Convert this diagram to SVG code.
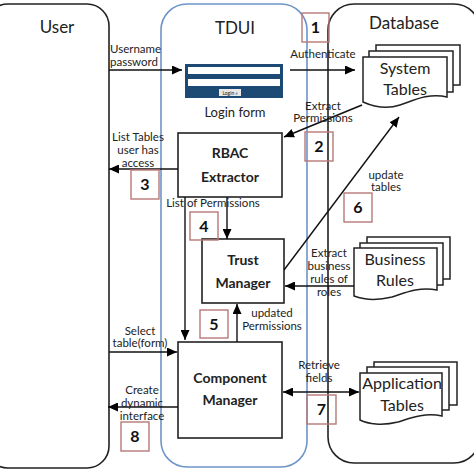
<svg xmlns="http://www.w3.org/2000/svg" width="474" height="474" viewBox="0 0 474 474">
<defs>
<marker id="ah" markerUnits="userSpaceOnUse" markerWidth="11" markerHeight="9" refX="10" refY="4.5" orient="auto-start-reverse"><path d="M0,0 L10,4.5 L0,9 Z" fill="#000"/></marker>
</defs>
<style>
text{font-family:Lato,"Liberation Sans",sans-serif;fill:#222}
.t{font-size:17px}
.lb{font-size:11.5px;text-anchor:middle}
.bx{fill:#fff;stroke:#222;stroke-width:1.6}
.bt{font-size:14px;font-weight:bold;text-anchor:middle}
.dt{font-size:16px;text-anchor:middle}
.num{fill:none;stroke:#b87878;stroke-width:1.4}
.nt{font-size:16px;font-weight:bold;text-anchor:middle;fill:#111}
.c{fill:none;stroke:#111;stroke-width:1.4}
.a{marker-end:url(#ah)}
.pg{fill:#fff;stroke:#222;stroke-width:1.5}
</style>
<rect width="474" height="474" fill="#fff"/>
<g id="user"><rect x="-14" y="4" width="123" height="464" rx="22" fill="none" stroke="#222" stroke-width="1.6"/><text class="t" x="57" y="33" text-anchor="middle">User</text></g>
<g id="tdui"><rect x="161" y="4" width="146" height="463" rx="26" fill="none" stroke="#6d95c8" stroke-width="1.6"/><text class="t" x="235" y="34" text-anchor="middle">TDUI</text></g>
<g id="database"><rect x="328" y="4" width="152" height="459" rx="26" fill="none" stroke="#222" stroke-width="1.6"/><text class="t" x="404" y="29" text-anchor="middle">Database</text></g>
<g id="login-form">
<rect x="185" y="64" width="98" height="34" fill="#1d4a74"/>
<rect x="188" y="67" width="92" height="7" fill="#fff"/>
<rect x="188" y="79" width="92" height="7" fill="#fff"/>
<rect x="219" y="89" width="22" height="7" fill="#e8e8e8"/>
<text x="230" y="94.5" font-size="5" text-anchor="middle">Login »</text>
<text x="235" y="117" font-size="13" text-anchor="middle">Login form</text>
</g>
<g id="rbac"><rect class="bx" x="178" y="133" width="104" height="64"/><text class="bt" x="230" y="158">RBAC</text><text class="bt" x="230" y="182">Extractor</text></g>
<g id="trust"><rect class="bx" x="202" y="239" width="82" height="64"/><text class="bt" x="243" y="265">Trust</text><text class="bt" x="243" y="288">Manager</text></g>
<g id="component"><rect class="bx" x="178" y="342" width="104" height="96"/><text class="bt" x="230" y="383">Component</text><text class="bt" x="230" y="405">Manager</text></g>
<g id="system-tables">
<path class="pg" d="M376,45 H460 V85 H376 Z"/>
<path class="pg" d="M369,51 H453 V92 H369 Z"/>
<path class="pg" d="M363,57 H447 V97 C428,92 410,102 400,105 C385,110 372,106 363,102 Z"/>
<text class="dt" x="405" y="74">System</text><text class="dt" x="405" y="95">Tables</text>
</g>
<g id="business-rules">
<path class="pg" d="M367,237 H450 V279 H367 Z"/>
<path class="pg" d="M360,243 H443 V285 H360 Z"/>
<path class="pg" d="M354,248 H437 V290 C418,286 402,294 392,297 C376,301 362,299 354,296 Z"/>
<text class="dt" x="395" y="265">Business</text><text class="dt" x="395" y="286">Rules</text>
</g>
<g id="application-tables">
<path class="pg" d="M374,362 H457 V405 H374 Z"/>
<path class="pg" d="M367,367 H449 V410 H367 Z"/>
<path class="pg" d="M360,373 H442 V416 C424,412 408,419 398,422 C382,426 368,424 360,420 Z"/>
<text class="dt" x="402" y="389">Application</text><text class="dt" x="402" y="411">Tables</text>
</g>
<g id="connectors">
<line class="c a" x1="109" y1="70" x2="182" y2="70"/>
<text x="110" y="53" font-size="11.5">Username</text><text x="110" y="66" font-size="11.5">password</text>
<line class="c a" x1="290" y1="70" x2="355" y2="70"/>
<text class="lb" x="323" y="58">Authenticate</text>
<line class="c a" x1="362" y1="105" x2="284" y2="137"/>
<text class="lb" x="323" y="110">Extract</text><text class="lb" x="323" y="122">Permissions</text>
<line class="c a" x1="178" y1="169" x2="109" y2="169"/>
<text class="lb" x="138" y="141">List Tables</text><text class="lb" x="138" y="154">user has</text><text class="lb" x="138" y="167">access</text>
<line class="c a" x1="227" y1="197" x2="227" y2="239"/>
<text class="lb" x="213" y="207">List of Permissions</text>
<line class="c a" x1="185" y1="197" x2="185" y2="340"/>
<line class="c a" x1="284" y1="270" x2="399" y2="117"/>
<text class="lb" x="386" y="179">update</text><text class="lb" x="386" y="191">tables</text>
<line class="c a" x1="354" y1="286" x2="285" y2="286"/>
<text class="lb" x="329" y="257">Extract</text><text class="lb" x="329" y="270">business</text><text class="lb" x="329" y="283">rules of</text><text class="lb" x="329" y="296">roles</text>
<line class="c a" x1="237" y1="342" x2="237" y2="304"/>
<text class="lb" x="272" y="317">updated</text><text class="lb" x="272" y="330">Permissions</text>
<line class="c a" x1="109" y1="352" x2="177" y2="352"/>
<text class="lb" x="140" y="335">Select</text><text class="lb" x="140" y="347">table(form)</text>
<line class="c a" x1="178" y1="407" x2="108" y2="407"/>
<text class="lb" x="142" y="394">Create</text><text class="lb" x="142" y="407">dynamic</text><text class="lb" x="142" y="420">interface</text>
<line class="c a" x1="283" y1="392" x2="359" y2="392" marker-start="url(#ah)"/>
<text class="lb" x="319" y="369">Retrieve</text><text class="lb" x="319" y="382">fields</text>
</g>
<g id="step-numbers">
<rect class="num" x="302" y="13" width="27" height="29"/><text class="nt" x="315.5" y="33">1</text>
<rect class="num" x="305" y="132" width="28" height="29"/><text class="nt" x="319" y="152">2</text>
<rect class="num" x="131" y="170" width="28" height="29"/><text class="nt" x="145" y="190">3</text>
<rect class="num" x="190" y="212" width="28" height="28"/><text class="nt" x="204" y="232">4</text>
<rect class="num" x="200" y="310" width="28" height="28"/><text class="nt" x="214" y="330">5</text>
<rect class="num" x="344" y="193" width="28" height="29"/><text class="nt" x="358" y="213">6</text>
<rect class="num" x="307" y="395" width="29" height="29"/><text class="nt" x="321.5" y="415">7</text>
<rect class="num" x="121" y="422" width="28" height="29"/><text class="nt" x="135" y="442">8</text>
</g>
</svg>
